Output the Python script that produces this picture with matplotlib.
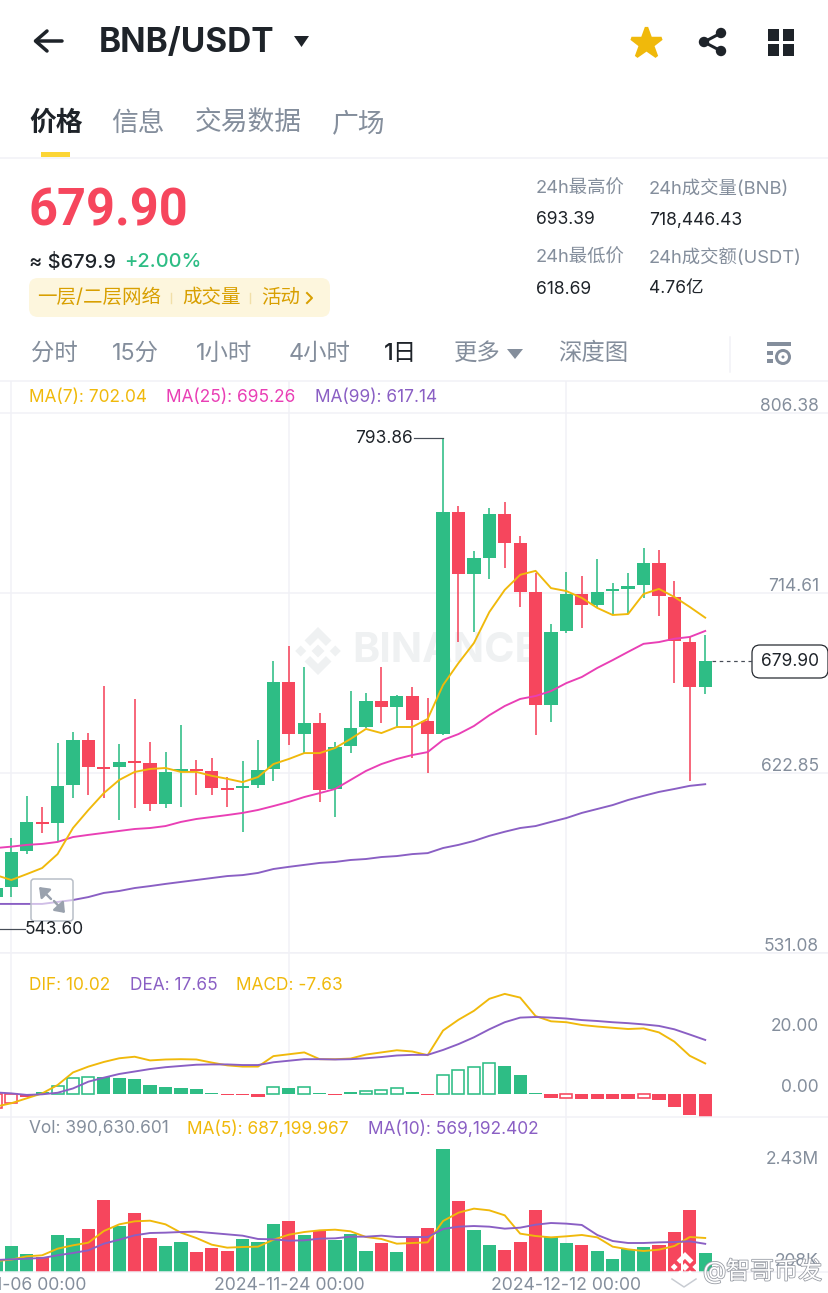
import numpy as np
import pandas as pd
import matplotlib
matplotlib.use("Agg")
import matplotlib.pyplot as plt
import matplotlib.patheffects as pe
from matplotlib.patches import FancyBboxPatch, Polygon, Circle, Rectangle
from matplotlib.transforms import ScaledTranslation

plt.rcParams['font.family'] = ['Inter', 'Noto Sans CJK SC', 'DejaVu Sans']

# ============================================================
# 0) DATOS (leídos de la captura)
# ============================================================
fechas = pd.date_range("2024-11-05", periods=47).strftime("%Y-%m-%d %H:%M").tolist()
fechas_eje = ["2024-11-06 00:00", "2024-11-24 00:00", "2024-12-12 00:00"]

aperturas = [559.6, 564.7, 583.1, 597.9, 597.4, 616.7, 639.7, 625.9, 625.9, 629.0, 628.0, 607.0,
             623.9, 624.9, 623.9, 615.2, 615.2, 616.7, 624.9, 669.2, 642.7, 648.3, 614.7, 636.6,
             646.3, 659.5, 656.5, 662.1, 649.4, 642.7, 755.9, 724.4, 732.4, 754.9, 740.1, 715.1,
             657.5, 695.2, 714.1, 708.5, 715.6, 716.7, 718.7, 729.9, 712.6, 689.6, 666.7]
cierres = [564.2, 582.6, 597.9, 596.9, 616.2, 639.7, 625.9, 624.9, 628.5, 628.0, 607.0, 623.4,
           624.9, 623.9, 615.2, 614.2, 616.2, 624.4, 669.2, 642.7, 648.3, 614.2, 636.1, 645.8,
           659.5, 656.5, 662.1, 649.9, 642.7, 755.9, 724.4, 732.4, 754.9, 740.1, 715.1, 657.5,
           694.7, 714.1, 708.5, 715.1, 716.7, 718.2, 729.9, 713.1, 690.1, 666.7, 679.9]
maximos = [568.3, 589.7, 611.1, 605.5, 638.1, 643.8, 643.2, 667.2, 637.6, 660.6, 638.6, 633.5,
           647.3, 629.5, 630.5, 620.8, 629.0, 639.7, 679.9, 687.6, 676.9, 653.4, 638.6, 664.6,
           663.6, 676.9, 662.6, 666.7, 661.1, 793.86, 759.0, 736.0, 757.9, 761.0, 743.7, 724.9,
           698.8, 725.4, 723.3, 732.0, 719.7, 724.9, 737.6, 736.6, 720.8, 692.2, 693.2]
minimos = [558.1, 559.6, 581.5, 592.4, 588.2, 610.1, 611.7, 610.1, 598.9, 605.0, 603.5, 605.0,
           605.5, 611.7, 611.7, 605.5, 592.9, 615.2, 618.7, 637.1, 633.0, 608.0, 600.4, 633.0,
           645.8, 648.3, 645.8, 630.5, 622.9, 642.2, 689.6, 694.7, 721.7, 727.4, 707.5, 642.2,
           648.9, 694.2, 696.8, 707.5, 703.4, 703.9, 712.1, 702.9, 668.7, 618.7, 663.1]

ma7 = [570.8, 568.3, 571.3, 574.4, 581.5, 594.8, 604.0, 612.6, 619.3, 623.4, 624.9, 625.4,
       623.4, 623.4, 621.4, 619.9, 618.2, 620.8, 627.4, 630.0, 633.0, 633.0, 635.6, 640.2,
       645.3, 643.2, 646.3, 646.3, 650.4, 667.7, 678.9, 689.1, 704.9, 716.2, 723.9, 725.9,
       717.1, 715.6, 712.1, 707.0, 703.4, 703.9, 714.1, 716.7, 712.6, 707.5, 702.04]
ma25 = [584.6, 585.3, 586.2, 586.7, 587.7, 590.2, 591.3, 592.3, 593.3, 594.3, 594.8, 595.8,
        597.9, 599.4, 600.4, 601.4, 602.5, 604.0, 606.0, 608.1, 610.6, 612.6, 614.7, 619.3,
        623.9, 627.4, 630.0, 632.0, 633.5, 639.7, 642.7, 646.8, 652.3, 657.0, 660.6, 662.1,
        664.6, 668.7, 671.8, 676.4, 680.4, 684.6, 688.7, 689.6, 691.3, 692.2, 695.26]
ma99 = [556.1, 556.1, 556.1, 556.1, 557.1, 558.1, 559.6, 561.7, 562.7, 564.2, 565.2, 566.3,
        567.3, 568.3, 569.3, 570.3, 570.8, 571.9, 573.9, 575.0, 576.0, 577.0, 577.5, 578.5,
        579.0, 580.0, 580.5, 581.5, 582.0, 584.6, 586.2, 588.2, 590.8, 592.9, 594.8, 595.8,
        597.9, 599.9, 602.5, 604.5, 606.5, 609.1, 611.2, 613.2, 614.7, 616.3, 617.14]

dif = [-4.0, -2.9, -1.3, 0.3, 3.0, 7.1, 9.0, 10.5, 11.7, 12.2, 11.0, 11.3, 11.4, 11.3, 10.3, 9.4,
       9.0, 9.0, 12.4, 13.0, 13.6, 11.4, 11.4, 11.6, 12.9, 13.6, 14.3, 13.9, 12.7, 20.7, 24.2,
       27.1, 31.0, 32.6, 31.4, 25.4, 23.7, 23.4, 22.5, 22.0, 21.6, 21.2, 21.4, 20.1, 17.1, 12.5, 10.02]
dea = [0.6, 0.3, -0.2, 0.0, 0.5, 1.9, 4.1, 5.4, 6.6, 7.4, 8.2, 8.8, 9.2, 9.6, 9.7, 9.7, 9.5, 9.5,
       10.4, 10.9, 11.4, 11.4, 11.3, 11.4, 11.7, 12.1, 12.6, 12.8, 12.8, 14.4, 16.3, 18.5, 21.1,
       23.4, 24.9, 25.1, 24.9, 24.6, 24.1, 23.8, 23.4, 23.1, 22.7, 22.2, 21.1, 19.4, 17.65]
macd = [-4.5, -2.9, -1.0, 0.6, 2.7, 5.2, 5.7, 5.5, 5.3, 4.9, 2.9, 2.5, 2.1, 1.6, 0.3, -0.3, -0.3,
        -0.9, 2.5, 2.2, 2.5, 0.3, -0.3, 0.9, 1.2, 1.4, 1.9, 0.9, -0.3, 6.3, 7.9, 8.8, 10.1, 9.2,
        6.4, 0.5, -1.25, -1.2, -1.5, -1.5, -1.6, -1.6, -1.3, -1.9, -4.0, -6.8, -7.63]

volumen = [249e3, 525e3, 370e3, 303e3, 748e3, 680e3, 869e3, 1448e3, 929e3, 1192e3, 694e3, 519e3,
           606e3, 411e3, 485e3, 418e3, 660e3, 599e3, 963e3, 1024e3, 754e3, 822e3, 647e3, 761e3,
           424e3, 593e3, 397e3, 700e3, 896e3, 2492e3, 1428e3, 842e3, 552e3, 438e3, 599e3, 1246e3,
           707e3, 593e3, 552e3, 418e3, 263e3, 471e3, 498e3, 539e3, 815e3, 1246e3, 390630.601]
vol_ma5 = [222e3, 249e3, 317e3, 337e3, 471e3, 539e3, 593e3, 828e3, 963e3, 1024e3, 1037e3, 963e3,
           795e3, 687e3, 552e3, 492e3, 505e3, 512e3, 653e3, 754e3, 808e3, 842e3, 855e3, 822e3,
           707e3, 667e3, 572e3, 586e3, 599e3, 1030e3, 1199e3, 1280e3, 1246e3, 1145e3, 775e3, 727e3,
           700e3, 721e3, 748e3, 700e3, 512e3, 458e3, 424e3, 451e3, 525e3, 707e3, 687199.967]
vol_ma10 = [242e3, 256e3, 269e3, 283e3, 337e3, 384e3, 438e3, 572e3, 653e3, 741e3, 788e3, 795e3,
            808e3, 815e3, 788e3, 761e3, 734e3, 667e3, 660e3, 633e3, 640e3, 674e3, 680e3, 714e3,
            714e3, 734e3, 707e3, 707e3, 707e3, 869e3, 916e3, 929e3, 916e3, 876e3, 896e3, 956e3,
            990e3, 977e3, 950e3, 748e3, 626e3, 586e3, 586e3, 599e3, 606e3, 620e3, 569192.402]

precio_ticks = [806.38, 714.61, 622.85, 531.08]
macd_ticks = [20.0, 0.0]

# ============================================================
# 1) ESTILO
# ============================================================
ANCHO, ALTO = 829, 1293
VERDE = "#2EBD85"
ROJO = "#F6465D"
AMARILLO = "#F0B90B"
ROSA = "#E93FB5"
MORADO = "#8A5FC4"
GRIS = "#848E9C"
OSCURO = "#1E2329"
REJILLA = "#F1F1F6"

PX_PRECIO = (806.38 - 531.08) / (953 - 413)
PX_MACD = 3.08
PX_VOL = 20205.0
LW = 0.72  # de px a puntos


def panel(y1, y2):
    ax = fig.add_axes([0, 1 - y2 / ALTO, 1, (y2 - y1) / ALTO], zorder=2)
    ax.patch.set_alpha(0)
    for lado in ["left", "right", "bottom"]:
        ax.spines[lado].set_visible(False)
    ax.spines["top"].set_color(REJILLA)
    ax.spines["top"].set_linewidth(1.5 * LW)
    ax.set_xlim(0.267, 0.267 + ANCHO / 15.42)
    ax.set_xticks([fechas.index(f) for f in fechas_eje])
    ax.tick_params(axis="x", length=0, labelbottom=False)
    ax.grid(axis="x", color=REJILLA, lw=1.5 * LW)
    ax.set_axisbelow(True)
    return ax


def marcas_y(ax, ticks, formato):
    ax.yaxis.tick_right()
    ax.set_yticks(ticks)
    ax.set_yticklabels([formato % t for t in ticks], fontsize=17.4 * LW, color=GRIS, ha="right", va="bottom")
    ax.tick_params(axis="y", length=0, direction="in", pad=-10 * LW)
    bajar = ScaledTranslation(0, -2 * LW / 72, fig.dpi_scale_trans)
    for et in ax.get_yticklabels():
        et.set_transform(et.get_transform() + bajar)


def texto(ax, x, y, s, px, color=OSCURO, ha="left", **kw):
    # el centro de la caja queda unos 2 px por encima del de los dígitos
    return ax.text(x, y + 2, s, fontsize=px * LW, color=color, ha=ha, va="center", **kw)


def logo(ax, cx, cy, r, color, zorder=1):
    # rombo de Binance: centro, dos laterales y dos chevrones
    def rombo(x, y, a):
        ax.add_patch(Polygon([(x - a, y), (x, y - a), (x + a, y), (x, y + a)], color=color, lw=0, zorder=zorder))
    rombo(cx, cy, r * 0.27)
    rombo(cx - r * 0.72, cy, r * 0.23)
    rombo(cx + r * 0.72, cy, r * 0.23)
    for s in (-1, 1):
        ax.add_patch(Polygon([(cx, cy + s * r), (cx + r * 0.56, cy + s * r * 0.44), (cx + r * 0.33, cy + s * r * 0.21),
                              (cx, cy + s * r * 0.54), (cx - r * 0.33, cy + s * r * 0.21), (cx - r * 0.56, cy + s * r * 0.44)],
                             color=color, lw=0, zorder=zorder))


# ============================================================
# 2) GRÁFICOS
# ============================================================
fig = plt.figure(figsize=(ANCHO / 100, ALTO / 100), dpi=100, facecolor="white")

fondo = fig.add_axes([0, 0, 1, 1], zorder=0)
fondo.set_xlim(0, ANCHO)
fondo.set_ylim(ALTO, 0)
fondo.axis("off")
logo(fondo, 318, 651, 24, "#EFF1F2")
texto(fondo, 352, 649, "BINANCE", 41, color="#EFF1F2", fontweight="bold")

x = np.arange(len(fechas))
colores = [VERDE if c >= o else ROJO for o, c in zip(aperturas, cierres)]

# --- velas ---
ax_precio = panel(381, 953)
ax_precio.set_ylim(531.08, 531.08 + (953 - 381) * PX_PRECIO)
ax_precio.grid(axis="y", color=REJILLA, lw=1.5 * LW)
marcas_y(ax_precio, precio_ticks, "%.2f")
ax_precio.vlines(x, minimos, maximos, colors=colores, lw=1.6 * LW, zorder=2)
base = np.minimum(aperturas, cierres)
alto = np.abs(np.array(cierres) - np.array(aperturas))
ax_precio.bar(x, alto, bottom=base, width=0.86, color=colores, lw=0, zorder=3)
ax_precio.plot(x, ma99, color=MORADO, lw=1.9 * LW, zorder=4)
ax_precio.plot(x, ma25, color=ROSA, lw=1.9 * LW, zorder=4)
ax_precio.plot(x, ma7, color=AMARILLO, lw=1.9 * LW, zorder=4)

# --- MACD ---
ax_macd = panel(953, 1117)
ax_macd.set_ylim(-(1117 - 1094.3) / PX_MACD, (1094.3 - 953) / PX_MACD)
marcas_y(ax_macd, macd_ticks, "%.2f")
previo = [-5.5] + macd[:-1]
for i, (v, p) in enumerate(zip(macd, previo)):
    color = VERDE if v >= 0 else ROJO
    hueco = v > p and abs(v) >= 1.1
    ax_macd.bar(i, v, width=0.86 if not hueco else 0.78, facecolor="white" if hueco else color,
                edgecolor=color, lw=(1.6 if hueco else 0) * LW, zorder=2)
ax_macd.plot(x, dif, color=AMARILLO, lw=1.9 * LW, zorder=3)
ax_macd.plot(x, dea, color=MORADO, lw=1.9 * LW, zorder=3)

# --- volumen ---
ax_vol = panel(1117, 1272)
ax_vol.set_ylim(0, (1272 - 1117) * PX_VOL)
ax_vol.set_yticks([])
ax_vol.spines["bottom"].set_visible(True)
ax_vol.spines["bottom"].set_color(REJILLA)
ax_vol.spines["bottom"].set_linewidth(1.5 * LW)
ax_vol.bar(x, volumen, width=0.86, color=colores, lw=0, zorder=2)
ax_vol.plot(x, vol_ma5, color=AMARILLO, lw=1.9 * LW, zorder=3)
ax_vol.plot(x, vol_ma10, color=MORADO, lw=1.9 * LW, zorder=3)
ax_vol.tick_params(axis="x", labelbottom=True, labelsize=17.6 * LW, labelcolor=GRIS, pad=3.5)
ax_vol.set_xticklabels(fechas_eje)

# ============================================================
# 3) INTERFAZ
# ============================================================
ui = fig.add_axes([0, 0, 1, 1], zorder=10)
ui.set_xlim(0, ANCHO)
ui.set_ylim(ALTO, 0)
ui.axis("off")

# cabecera
ui.plot([62, 36], [41, 41], color=OSCURO, lw=3.5 * LW, solid_capstyle="round")
ui.plot([47, 35.5, 47], [31, 41, 51], color=OSCURO, lw=3.5 * LW, solid_capstyle="round", solid_joinstyle="round")
texto(ui, 99, 41.5, "BNB/USDT", 33.4, fontweight="bold")
ui.add_patch(Polygon([(294, 36), (309, 36), (301.5, 47)], color=OSCURO, lw=0))
ui.plot([646], [43], marker="*", ms=26 * LW * 1.25, color=AMARILLO, mec=AMARILLO, mew=2.5, solid_joinstyle="round")
for cx, cy in [(704, 42), (721, 33), (721, 51)]:
    ui.add_patch(Circle((cx, cy), 5.2, color=OSCURO, lw=0))
ui.plot([721, 704, 721], [33, 42, 51], color=OSCURO, lw=3 * LW)
for cx in (768, 783):
    for cy in (29, 44):
        ui.add_patch(Rectangle((cx, cy), 11.5, 11.5, color=OSCURO, lw=0))

# pestañas
texto(ui, 29, 122, "价格", 26.8, fontweight="bold")
texto(ui, 111.5, 122, "信息", 26.8, color=GRIS)
texto(ui, 194.5, 122, "交易数据", 26.8, color=GRIS)
texto(ui, 331.5, 122, "广场", 26.8, color=GRIS)
ui.add_patch(Rectangle((41, 152), 29, 5, color="#FCD535", lw=0))
ui.plot([0, ANCHO], [157.5, 157.5], color=REJILLA, lw=1.5 * LW)

# precio
texto(ui, 28.5, 209.5, "679.90", 50.5, color=ROJO, fontweight="bold", family=["Roboto", "DejaVu Sans"])
texto(ui, 29, 260, "≈ $679.9", 20, fontweight="medium")
texto(ui, 124, 260, "+2.00%", 20, color=VERDE, fontweight="medium")
ui.add_patch(FancyBboxPatch((35, 284), 289, 27, boxstyle="round,pad=6,rounding_size=9", fc="#FDF6DD", ec="none"))
texto(ui, 37, 296, "一层/二层网络", 19.5, color="#D89F00")
texto(ui, 182, 296, "成交量", 19.5, color="#D89F00")
texto(ui, 261, 296, "活动", 19.5, color="#D89F00")
ui.plot([171, 171], [293, 303], color="#F1DFA8", lw=1)
ui.plot([250, 250], [293, 303], color="#F1DFA8", lw=1)
ui.plot([307, 312, 307], [293, 298, 303], color="#D89F00", lw=2 * LW)

# resumen 24h
for xx, yy, s in [(536, 187, "24h最高价"), (649, 187, "24h成交量(BNB)"), (536, 256, "24h最低价"), (649, 256, "24h成交额(USDT)")]:
    texto(ui, xx, yy, s, 18.4, color=GRIS)
for xx, yy, s in [(536, 218, "693.39"), (649, 218, "718,446.43"), (536, 287, "618.69"), (649, 287, "4.76亿")]:
    texto(ui, xx, yy, s, 17.5)

# intervalos
for xx, s in [(31, "分时"), (112, "15分"), (196, "1小时"), (289, "4小时"), (454, "更多"), (558, "深度图")]:
    texto(ui, xx, 352, s, 23.4, color=GRIS)
texto(ui, 384, 352, "1日", 23.4, fontweight="medium")
ui.add_patch(Polygon([(507, 349), (523, 349), (515, 359)], color=GRIS, lw=0))
ui.plot([730.5, 730.5], [337, 372], color=REJILLA, lw=1.5 * LW)
ui.add_patch(Rectangle((767, 342), 24, 3.5, color=GRIS, lw=0))
ui.add_patch(Rectangle((767, 351), 6, 4, color=GRIS, lw=0))
ui.add_patch(Rectangle((767, 359), 6, 4, color=GRIS, lw=0))
ui.add_patch(Circle((783, 357), 6.5, fc="white", ec=GRIS, lw=3 * LW))
ui.add_patch(Circle((783, 357), 1.5, color=GRIS, lw=0))

# leyendas
for xx, yy, s, c in [(29, 395.5, "MA(7): 702.04", AMARILLO), (166, 395.5, "MA(25): 695.26", ROSA), (315, 395.5, "MA(99): 617.14", MORADO),
                     (29, 983, "DIF: 10.02", AMARILLO), (130, 983, "DEA: 17.65", MORADO), (236, 983, "MACD: -7.63", AMARILLO),
                     (29, 1127, "Vol: 390,630.601", GRIS), (187, 1127, "MA(5): 687,199.967", AMARILLO), (368, 1127, "MA(10): 569,192.402", MORADO)]:
    texto(ui, xx, yy, s, 17.3, color=c)

# etiquetas de máximo, mínimo y último precio
texto(ui, 413, 436.5, "793.86", 17.3, ha="right")
ui.plot([414, 443], [437.5, 437.5], color="#474D57", lw=1.2 * LW)
texto(ui, 25, 927.5, "543.60", 17.3)
ui.plot([0, 25], [928.5, 928.5], color="#474D57", lw=1.2 * LW)
ui.plot([712, 752], [661, 661], color="#474D57", lw=1.2 * LW, ls=(0, (3, 3)))
ui.add_patch(FancyBboxPatch((757, 650), 66, 23, boxstyle="round,pad=5,rounding_size=8", fc="white", ec=OSCURO, lw=1.2 * LW))
texto(ui, 790.5, 660, "679.90", 17.3, ha="center")

# botón de pantalla completa
ui.add_patch(FancyBboxPatch((34, 882), 36, 36, boxstyle="round,pad=3,rounding_size=3", fc=(1, 1, 1, 0.6), ec="#B7BDC6", lw=1.5 * LW))
for a, b in [((51, 899), (39, 887)), ((54, 901), (65, 913))]:
    ui.annotate("", xy=b, xytext=a, arrowprops=dict(arrowstyle="-|>,head_length=0.55,head_width=0.42", color="#9AA2AE", lw=2.4 * LW, shrinkA=0, shrinkB=0))

# escalas de volumen
texto(ui, 819, 1158, "2.43M", 17.4, color=GRIS, ha="right")
texto(ui, 819, 1260, "208K", 17.4, color=GRIS, ha="right")

# marca de agua de abajo
logo(ui, 685, 1267, 15, "white", zorder=6)
ui.plot([672, 684, 696], [1279, 1287, 1279], color="#C8CCD2", lw=1.5 * LW, zorder=6)
t = texto(ui, 703, 1269, "@智哥币发", 24, color="white", zorder=7)
t.set_path_effects([pe.withStroke(linewidth=1.2, foreground="#9A9EA6")])

fig.savefig("out.png", dpi=100, facecolor="white")
